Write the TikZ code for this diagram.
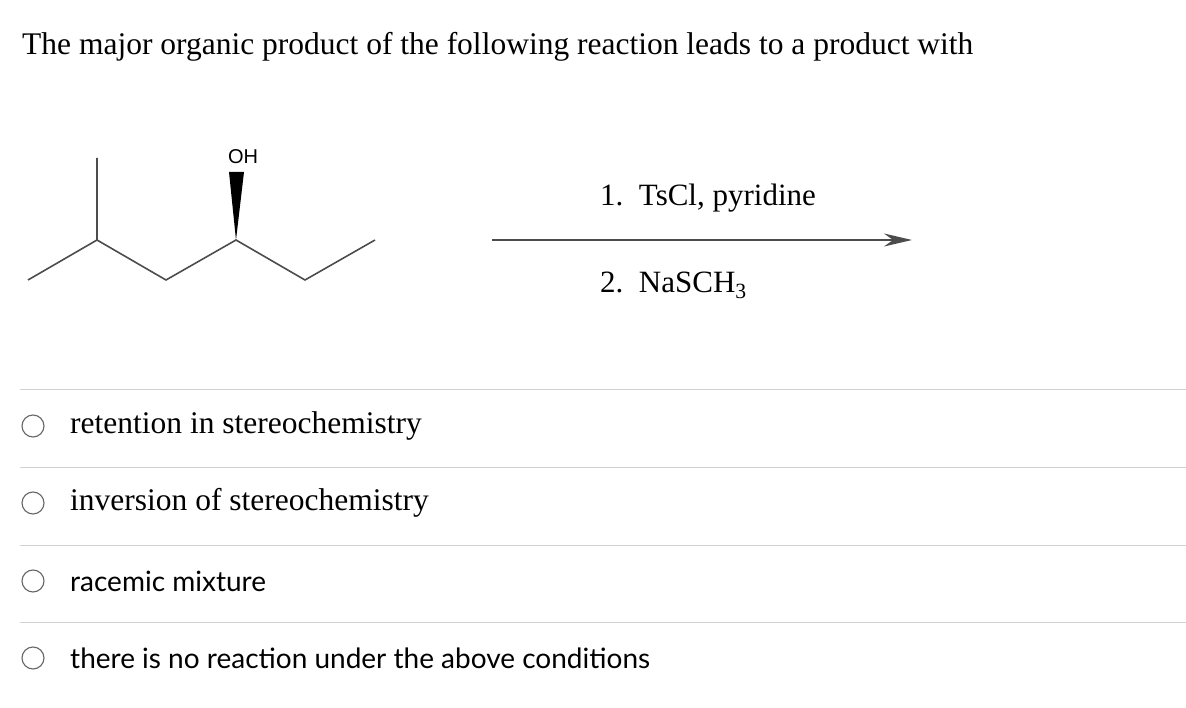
\documentclass[tikz,border=0pt]{standalone}
\usepackage{fontspec}
\setmainfont{Liberation Serif}
\newfontfamily\opt{Lato}
\newfontfamily\hel{Liberation Sans}
\usetikzlibrary{arrows.meta}
\begin{document}
\begin{tikzpicture}[x=1pt,y=-1pt,
  bond/.style={line width=1.6pt,gray!60!black},
  sep/.style={draw=gray!35,line width=1pt},
  radio/.style={circle,draw=gray!80!black,line width=1.1pt,minimum size=22pt,inner sep=0pt},
  ser/.style={anchor=west,inner sep=0pt,font=\fontsize{31.5}{34}\selectfont},
  sans/.style={anchor=west,inner sep=0pt,font=\opt\fontsize{28}{31}\selectfont}]
\useasboundingbox (0,0) rectangle (1186,708);
\node[ser,anchor=base west] (title) at (22,55) {The major organic product of the following reaction leads to a product with};
% molecule
\coordinate (a) at (28,280); \coordinate (b) at (97,240); \coordinate (c) at (97,158);
\coordinate (d) at (166,280); \coordinate (e) at (236,240); \coordinate (f) at (305,280); \coordinate (g) at (375,240);
\draw[bond] (a)--(b)--(c); \draw[bond] (b)--(d)--(e)--(f)--(g);
\fill (e) -- (229,172) -- (244,172) -- cycle;
\node[font=\hel\fontsize{20}{21}\selectfont,inner sep=0pt] (oh) at (243,157) {OH};
% arrow
\coordinate (s) at (492,240); \coordinate (t) at (912,240);
\draw[line width=1.6pt,gray!60!black,-{Stealth[length=28pt,width=13pt]}] (s)--(t);
\node[ser,font=\fontsize{31}{34}\selectfont] (r1) at (600,198) {1.\ \ TsCl, pyridine};
\node[ser,font=\fontsize{31}{34}\selectfont] (r2) at (600,285) {2.\ \ NaSCH\textsubscript{3}};
% separators
\foreach \y in {390,467,545,622} \draw[sep] (20,\y)--(1186,\y);
\node[radio] (c1) at (33,426) {}; \node[ser] (o1) at (70,426) {retention in stereochemistry};
\node[radio] (c2) at (33,503) {}; \node[ser] (o2) at (70,503) {inversion of stereochemistry};
\node[radio] (c3) at (33,581) {}; \node[sans] (o3) at (70,581) {racemic mixture};
\node[radio] (c4) at (33,658) {}; \node[sans] (o4) at (70,658) {there is no reaction under the above conditions};
\end{tikzpicture}
\end{document}
